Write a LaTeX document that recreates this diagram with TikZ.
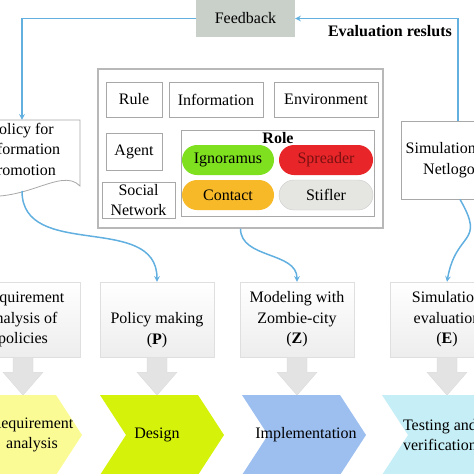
\documentclass[tikz,border=0pt]{standalone}
\usepackage{fontspec}
\setmainfont{Liberation Serif}
\definecolor{lnblue}{HTML}{62B0E0}
\definecolor{fbgray}{HTML}{C9CFC9}
\definecolor{boxgray}{HTML}{A8A8A8}
\definecolor{outgray}{HTML}{B8B8B8}
\definecolor{igngreen}{HTML}{7EE01E}
\definecolor{sprred}{HTML}{E8262A}
\definecolor{sprtext}{HTML}{7A1010}
\definecolor{conorange}{HTML}{F7B928}
\definecolor{stigray}{HTML}{E5E6E1}
\definecolor{chyel}{HTML}{FBFB96}
\definecolor{chlime}{HTML}{D4F20A}
\definecolor{chblue}{HTML}{9DBFF0}
\definecolor{chcyan}{HTML}{C6EEF6}
\begin{document}
\begin{tikzpicture}[x=1pt, y=-1pt, >=stealth,
  every node/.style={font=\fontsize{16}{20.5}\selectfont, inner sep=0pt, align=center},
  flow/.style={draw=lnblue, line width=1.5pt},
  sub/.style={draw=boxgray, fill=white, line width=0.8pt, rectangle},
  pill/.style={rounded corners=15pt, minimum width=92pt, minimum height=30pt},
  phase/.style={draw=gray!25, top color=white, bottom color=gray!14, minimum width=114pt, minimum height=75pt},
  downarrow/.style={fill=gray!22, draw=gray!28}]
  \useasboundingbox (0,0) rectangle (474,474);
  \clip (0,0) rectangle (474,474);

  % feedback
  \node[fill=fbgray, minimum width=99pt, minimum height=37pt] (fb) at (245.5,18.5) {Feedback};
  \node[anchor=east, font=\bfseries\fontsize{16}{20.5}\selectfont] (evres) at (452,31) {Evaluation resluts};

  % model box
  \node[draw=outgray, line width=1.2pt, minimum width=285pt, minimum height=159pt] (env) at (240.5,148.5) {};
  \node[sub, minimum width=56pt, minimum height=35pt] (rule) at (134,99.5) {Rule};
  \node[sub, minimum width=94pt, minimum height=35pt] (info) at (216,99.5) {Information};
  \node[sub, minimum width=104pt, minimum height=35pt] (envir) at (326,99.5) {Environment};
  \node[sub, minimum width=56pt, minimum height=37pt] (agent) at (134,151.5) {Agent};
  \node[sub, minimum width=73pt, minimum height=36pt] (social) at (138.5,200) {Social\\Network};
  \node[sub, minimum width=193pt, minimum height=86pt] (role) at (277.5,173) {};
  \node[font=\bfseries\fontsize{16}{20.5}\selectfont] (rolet) at (278,138) {Role};
  \node[pill, fill=igngreen] (ign) at (228,160) {Ignoramus};
  \node[pill, fill=sprred, text=sprtext, minimum width=94pt] (spr) at (326,160) {Spreader};
  \node[pill, fill=conorange] (con) at (228,195) {Contact};
  \node[pill, fill=stigray, draw=gray!40, minimum width=94pt] (sti) at (326,195) {Stifler};

  % policy document
  \filldraw[draw=boxgray, fill=white, line width=0.8pt] (-36,120) -- (80,120) -- (80,186) .. controls (60,165) and (20,210) .. (-36,192) -- cycle;
  \node[minimum width=116pt, minimum height=58pt] (doc) at (22,149) {Policy for\\Information\\Promotion};
  \coordinate (docb) at (22,191);

  \node[sub, minimum width=96pt, minimum height=78pt] (simnl) at (449,160) {Simulation in\\Netlogo};

  % phases
  \node[phase] (reqp) at (23,319.5) {Requirement\\analysis of\\policies};
  \node[phase, label={[align=center,yshift=-10.5pt]center:Policy making\\(\textbf{P})}] (pm) at (157,319.5) {};
  \node[phase] (zm) at (297,319.5) {Modeling with\\Zombie-city\\(\textbf{Z})};
  \node[phase] (simev) at (447,319.5) {Simulation\\evaluation\\(\textbf{E})};

  \foreach \b in {reqp,pm,zm,simev}
    \draw[downarrow] ([xshift=-10pt]\b.south) -- ++(0,15) -- ++(-10,0) -- ++(20,23) -- ++(20,-23) -- ++(-10,0) -- ++(0,-15) -- cycle;

  \foreach \l/\c in {-42/chyel, 100/chlime, 242/chblue, 382/chcyan}
    \fill[\c] (\l,395) -- ++(98,0) -- ++(26,40) -- ++(-26,40) -- ++(-98,0) -- ++(26,-40) -- cycle;
  \node (ch1) at (32,435) {Requirement\\analysis};
  \node (ch2) at (157,435) {Design};
  \node (ch3) at (306,435) {Implementation};
  \node (ch4) at (440,435) {Testing and\\verification};

  % connectors
  \coordinate (evr) at (458,18.5);
  \draw[flow,->] (fb.west) -| (doc.north);
  \draw[flow,->] (simnl.north -| evr) |- (fb.east);
  \draw[flow,->] (docb) to[out=-90,in=90,looseness=1.1] (pm.north);
  \draw[flow,->] (env.south) to[out=-90,in=90] (zm.north);
  \draw[flow,->] ([xshift=11pt]simnl.south) to[out=-60,in=80,looseness=1.6] (simev.north);
\end{tikzpicture}
\end{document}
